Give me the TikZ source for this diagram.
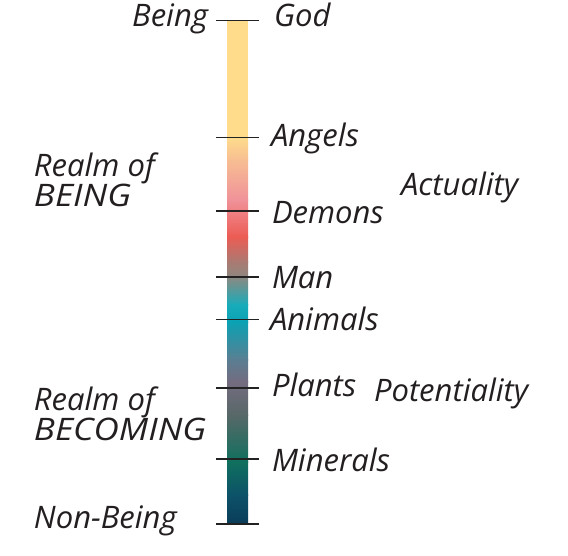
\documentclass[tikz,border=0pt]{standalone}
\usepackage{graphicx}
\usepackage{fontspec}
\setmainfont{Open Sans}
\begin{document}
\begin{tikzpicture}[x=1pt,y=-1pt,
  lbl/.style={anchor=base west,inner sep=0pt,outer sep=0pt,text=txt,font=\itshape\fontsize{31}{33}\selectfont},
  lblr/.style={lbl,anchor=base east},
  tick/.style={draw=tickc,line width=1.8pt}]
\definecolor{txt}{HTML}{231F20}
\definecolor{tickc}{HTML}{222222}
\newcommand{\wcaps}[1]{\scalebox{1.13}[1]{#1}}
\useasboundingbox[fill=white] (0,0) rectangle (568,555);
% gradient bar
\def\bx{227}\def\bX{248}
\fill[color={rgb,255:red,254;green,220;blue,140}] (\bx,20) rectangle (\bX,138);
\shade[top color={rgb,255:red,254;green,220;blue,140},bottom color={rgb,255:red,247;green,190;blue,146}] (\bx,137.5) rectangle (\bX,160);
\shade[top color={rgb,255:red,247;green,190;blue,146},bottom color={rgb,255:red,240;green,146;blue,154}] (\bx,159.5) rectangle (\bX,200);
\shade[top color={rgb,255:red,240;green,146;blue,154},bottom color={rgb,255:red,236;green,92;blue,84}] (\bx,199.5) rectangle (\bX,237);
\shade[top color={rgb,255:red,236;green,92;blue,84},bottom color={rgb,255:red,170;green,122;blue,114}] (\bx,236.5) rectangle (\bX,262);
\shade[top color={rgb,255:red,170;green,122;blue,114},bottom color={rgb,255:red,142;green,136;blue,128}] (\bx,261.5) rectangle (\bX,277);
\shade[top color={rgb,255:red,142;green,136;blue,128},bottom color={rgb,255:red,24;green,172;blue,186}] (\bx,276.5) rectangle (\bX,305);
\shade[top color={rgb,255:red,24;green,172;blue,186},bottom color={rgb,255:red,10;green,162;blue,180}] (\bx,304.5) rectangle (\bX,322);
\shade[top color={rgb,255:red,10;green,162;blue,180},bottom color={rgb,255:red,90;green,126;blue,146}] (\bx,321.5) rectangle (\bX,360);
\shade[top color={rgb,255:red,90;green,126;blue,146},bottom color={rgb,255:red,116;green,108;blue,128}] (\bx,359.5) rectangle (\bX,382);
\shade[top color={rgb,255:red,116;green,108;blue,128},bottom color={rgb,255:red,88;green,104;blue,104}] (\bx,381.5) rectangle (\bX,415);
\shade[top color={rgb,255:red,88;green,104;blue,104},bottom color={rgb,255:red,16;green,112;blue,94}] (\bx,414.5) rectangle (\bX,462);
\shade[top color={rgb,255:red,16;green,112;blue,94},bottom color={rgb,255:red,12;green,82;blue,104}] (\bx,461.5) rectangle (\bX,495);
\shade[top color={rgb,255:red,12;green,82;blue,104},bottom color={rgb,255:red,11;green,60;blue,90}] (\bx,494.5) rectangle (\bX,524);
% ticks
\foreach \n/\y in {tgod/20.5,tang/137.5,tdem/211,tman/277,tani/319.5,tpla/388,tmin/459,tnon/524}{
  \coordinate (\n a) at (216,\y);
  \coordinate (\n b) at (259,\y);
  \draw[tick] (\n a) -- (\n b);
}
% labels
\node[lblr] (being) at (208,26) {Being};
\node[lbl] (god) at (274,26) {God};
\node[lbl] (angels) at (271,146.7) {Angels};
\node[lbl] (demons) at (272,223.3) {Demons};
\node[lbl] (man) at (272,288.3) {Man};
\node[lbl] (animals) at (270,330) {Animals};
\node[lbl] (plants) at (272,396.7) {Plants};
\node[lbl] (minerals) at (272,471.7) {Minerals};
\node[lbl] (actuality) at (401,195) {Actuality};
\node[lbl] (potentiality) at (374,401.7) {Potentiality};
\node[lbl] (realmA) at (34,176.7) {Realm of};
\node[lbl] (beingcap) at (34,206.7) {\wcaps{BEING}};
\node[lbl] (realmB) at (34,410) {Realm of};
\node[lbl] (becoming) at (34,440) {\wcaps{BECOMING}};
\node[lbl] (nonbeing) at (34,528.3) {Non-Being};
\end{tikzpicture}
\end{document}
